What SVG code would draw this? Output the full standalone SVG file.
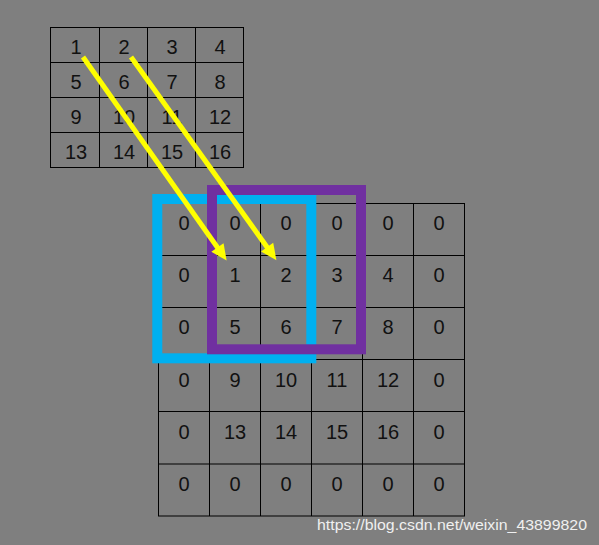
<svg xmlns="http://www.w3.org/2000/svg" width="599" height="545" viewBox="0 0 599 545">
<defs>
<style>
.grid line, .grid rect { stroke:#000; stroke-width:1; fill:none; }
.num { font-family:"Liberation Sans", Arial, sans-serif; font-size:20px; fill:#111; text-anchor:middle; }
.win { fill:none; stroke-width:10; }
.arrow { stroke:#ffff00; stroke-width:5; fill:none; marker-end:url(#head); }
.wm { font-family:"Liberation Sans", Arial, sans-serif; font-size:15.5px; fill:#f0f0f0; }
</style>
<marker id="head" markerUnits="userSpaceOnUse" markerWidth="18" markerHeight="16" viewBox="0 -8 18 16" refX="1" refY="0" orient="auto" overflow="visible">
<path d="M0,-7.5 L16,0 L0,7.5 z" fill="#ffff00"/>
</marker>
</defs>
<rect width="599" height="545" fill="#7f7f7f"/>

<g id="input-grid" class="grid">
<rect x="50.5" y="27.5" width="193" height="140"/>
<line x1="99.5" y1="27.5" x2="99.5" y2="167.5"/>
<line x1="147.5" y1="27.5" x2="147.5" y2="167.5"/>
<line x1="195.5" y1="27.5" x2="195.5" y2="167.5"/>
<line x1="50.5" y1="62.5" x2="243.5" y2="62.5"/>
<line x1="50.5" y1="97.5" x2="243.5" y2="97.5"/>
<line x1="50.5" y1="132.5" x2="243.5" y2="132.5"/>
<g class="num">
<text x="76" y="54">1</text><text x="124" y="54">2</text><text x="172" y="54">3</text><text x="220" y="54">4</text>
<text x="76" y="89">5</text><text x="124" y="89">6</text><text x="172" y="89">7</text><text x="220" y="89">8</text>
<text x="76" y="124">9</text><text x="124" y="124">10</text><text x="172" y="124">11</text><text x="220" y="124">12</text>
<text x="76" y="159">13</text><text x="124" y="159">14</text><text x="172" y="159">15</text><text x="220" y="159">16</text>
</g>
</g>

<g id="padded-grid" class="grid">
<rect x="158.5" y="203.5" width="306" height="312.5"/>
<line x1="209.5" y1="203.5" x2="209.5" y2="516"/>
<line x1="260.5" y1="203.5" x2="260.5" y2="516"/>
<line x1="311.5" y1="203.5" x2="311.5" y2="516"/>
<line x1="362.5" y1="203.5" x2="362.5" y2="516"/>
<line x1="413.5" y1="203.5" x2="413.5" y2="516"/>
<line x1="158.5" y1="255.5" x2="464.5" y2="255.5"/>
<line x1="158.5" y1="307.5" x2="464.5" y2="307.5"/>
<line x1="158.5" y1="359.5" x2="464.5" y2="359.5"/>
<line x1="158.5" y1="411.5" x2="464.5" y2="411.5"/>
<line x1="158.5" y1="464" x2="464.5" y2="464"/>
<g class="num">
<text x="184" y="230">0</text><text x="235" y="230">0</text><text x="286" y="230">0</text><text x="337" y="230">0</text><text x="388" y="230">0</text><text x="439" y="230">0</text>
<text x="184" y="282">0</text><text x="235" y="282">1</text><text x="286" y="282">2</text><text x="337" y="282">3</text><text x="388" y="282">4</text><text x="439" y="282">0</text>
<text x="184" y="334">0</text><text x="235" y="334">5</text><text x="286" y="334">6</text><text x="337" y="334">7</text><text x="388" y="334">8</text><text x="439" y="334">0</text>
<text x="184" y="387">0</text><text x="235" y="387">9</text><text x="286" y="387">10</text><text x="337" y="387">11</text><text x="388" y="387">12</text><text x="439" y="387">0</text>
<text x="184" y="439">0</text><text x="235" y="439">13</text><text x="286" y="439">14</text><text x="337" y="439">15</text><text x="388" y="439">16</text><text x="439" y="439">0</text>
<text x="184" y="491">0</text><text x="235" y="491">0</text><text x="286" y="491">0</text><text x="337" y="491">0</text><text x="388" y="491">0</text><text x="439" y="491">0</text>
</g>
</g>

<g id="window-blue">
<rect class="win" x="157.3" y="199" width="154" height="159.3" stroke="#00b0f0"/>
</g>
<g id="window-purple">
<rect class="win" x="212" y="190" width="149" height="159.3" stroke="#7030a0"/>
</g>

<g id="connectors">
<line class="arrow" x1="83" y1="57" x2="218" y2="248.3"/>
<line class="arrow" x1="131" y1="57" x2="267.7" y2="248"/>
</g>

<text class="wm" x="317" y="530" textLength="270" lengthAdjust="spacingAndGlyphs">https://blog.csdn.net/weixin_43899820</text>
</svg>
